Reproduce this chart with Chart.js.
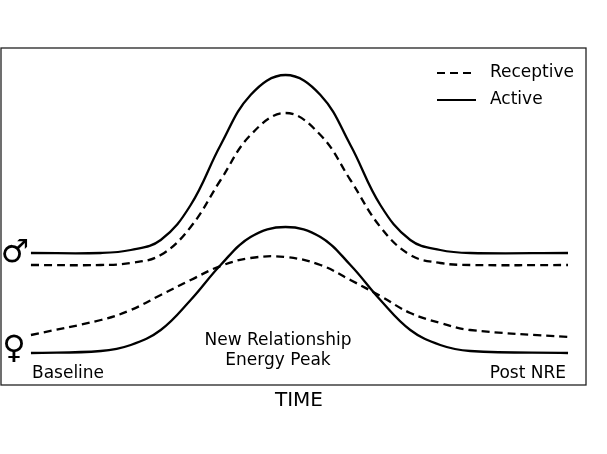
<!DOCTYPE html>
<html>
<head>
<script src="https://cdn.jsdelivr.net/npm/chart.js@4"></script>
<style>body{margin:0;background:#fff}</style>
</head>
<body>
<div style="width:607px;height:454px"><canvas id="c"></canvas></div>
<script>
// time positions (0..586 across the frame) and curve heights above the frame bottom
const timePoints = [30, 100, 130, 160, 190, 220, 250, 285, 320, 350, 380, 410, 440, 470, 568];
const maleActive = [132, 132, 135, 145, 180, 240, 290, 310, 290, 240, 180, 145, 135, 132, 132];
const maleReceptive = [120, 120, 122, 130, 158, 205, 250, 272, 250, 205, 158, 130, 122, 120, 120];
const femaleActive = [32, 34, 40, 55, 85, 120, 148, 158, 148, 120, 85, 55, 40, 34, 32];
const femaleReceptive = [50, 65, 75, 90, 105, 119, 127, 128, 120, 105, 89, 72, 62, 55, 48];

const pts = arr => arr.map((v, i) => ({ x: timePoints[i], y: v }));
const FONT = '"DejaVu Sans", sans-serif';

const decor = {
    id: 'decor',
    afterDraw(chart) {
        const { ctx, chartArea: a, scales: { x, y } } = chart;
        ctx.save();
        ctx.strokeStyle = '#222';
        ctx.lineWidth = 1.3;
        ctx.strokeRect(a.left, a.top, a.right - a.left, a.bottom - a.top);
        ctx.strokeStyle = '#000';
        ctx.fillStyle = '#000';
        ctx.textBaseline = 'middle';
        // legend
        ctx.lineWidth = 2.2;
        ctx.setLineDash([8, 5]);
        ctx.beginPath(); ctx.moveTo(437, 73); ctx.lineTo(476, 73); ctx.stroke();
        ctx.setLineDash([]);
        ctx.beginPath(); ctx.moveTo(437, 100); ctx.lineTo(476, 100); ctx.stroke();
        ctx.font = '17px ' + FONT;
        ctx.textAlign = 'left';
        ctx.fillText('Receptive', 490, 73);
        ctx.fillText('Active', 490, 100);
        // symbols
        ctx.font = '32px ' + FONT;
        ctx.textAlign = 'center';
        ctx.fillText('♂', 15, 254);
        ctx.fillText('♀', 14, 350);
        // annotations
        ctx.font = '17px ' + FONT;
        ctx.fillText('New Relationship', 278, 341);
        ctx.fillText('Energy Peak', 278, 361);
        ctx.textAlign = 'left';
        ctx.fillText('Baseline', 32, 374);
        ctx.textAlign = 'right';
        ctx.fillText('Post NRE', 566, 374);
        ctx.textAlign = 'center';
        ctx.font = '20px ' + FONT;
        ctx.fillText('TIME', 299, 401);
        ctx.restore();
    }
};

const line = (data, dashed) => ({
    data: pts(data),
    borderColor: '#000',
    borderWidth: 2.3,
    borderDash: dashed ? [8, 5] : [],
    pointRadius: 0,
    fill: false,
    tension: 0.4,
});

new Chart(document.getElementById('c'), {
    type: 'line',
    data: {
        datasets: [
            line(maleActive, false),
            line(maleReceptive, true),
            line(femaleActive, false),
            line(femaleReceptive, true),
        ],
    },
    options: {
        responsive: true,
        maintainAspectRatio: false,
        animation: false,
        layout: { padding: { left: 1, top: 48, right: 21, bottom: 69 } },
        plugins: { legend: { display: false }, tooltip: { enabled: false } },
        scales: {
            x: { type: 'linear', min: 0, max: 586, display: false },
            y: { min: 0, max: 337, display: false },
        },
    },
    plugins: [decor],
});
</script>
</body>
</html>
